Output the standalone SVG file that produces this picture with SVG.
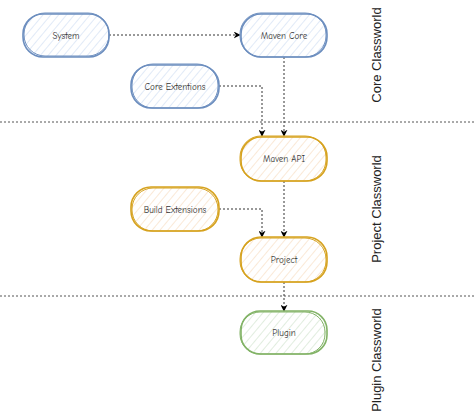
<svg xmlns="http://www.w3.org/2000/svg" width="474" height="415" viewBox="0 0 474 415">
<defs>
<pattern id="hb" width="6" height="6" patternUnits="userSpaceOnUse" patternTransform="rotate(40)"><line x1="0" y1="0" x2="0" y2="6" stroke="#c4d6ef" stroke-width="1"/></pattern>
<pattern id="ho" width="6" height="6" patternUnits="userSpaceOnUse" patternTransform="rotate(40)"><line x1="0" y1="0" x2="0" y2="6" stroke="#f6d3b0" stroke-width="1"/></pattern>
<pattern id="hg" width="6" height="6" patternUnits="userSpaceOnUse" patternTransform="rotate(40)"><line x1="0" y1="0" x2="0" y2="6" stroke="#c3dcc0" stroke-width="1"/></pattern>
<marker id="arr" viewBox="0 0 10 10" refX="9" refY="5" markerWidth="7" markerHeight="7" orient="auto" markerUnits="userSpaceOnUse"><path d="M0,0 L10,5 L0,10 L3,5 z" fill="#000"/></marker>
</defs>
<style>
.lbl{font-family:"Comic Neue","Liberation Sans",sans-serif;font-size:9px;fill:#333;text-anchor:middle;dominant-baseline:central}
.side{font-family:"Liberation Sans",Arial,sans-serif;font-size:13px;fill:#222;text-anchor:middle;dominant-baseline:central}
.sep{stroke:#555;stroke-width:1;stroke-dasharray:2,2;fill:none}
.con{stroke:#333;stroke-width:1;stroke-dasharray:2,2;fill:none;marker-end:url(#arr)}
.b{fill:url(#hb);stroke:#6c8ebf;stroke-width:1.6}
.o{fill:url(#ho);stroke:#d6a21e;stroke-width:1.6}
.g{fill:url(#hg);stroke:#82b366;stroke-width:1.6}
.b2{fill:none;stroke:#6c8ebf;stroke-width:1}
.o2{fill:none;stroke:#d6a21e;stroke-width:1}
.g2{fill:none;stroke:#82b366;stroke-width:1}
</style>
<rect width="474" height="415" fill="#fff"/>
<g id="separators">
<line class="sep" x1="0" y1="122" x2="474" y2="122"/>
<line class="sep" x1="0" y1="296" x2="474" y2="296"/>
</g>
<g id="lanes">
<text class="side" transform="translate(376,55) rotate(-90)">Core Classworld</text>
<text class="side" transform="translate(376,209) rotate(-90)">Project Classworld</text>
<text class="side" transform="translate(376,360) rotate(-90)">Plugin Classworld</text>
</g>
<g id="connectors">
<path class="con" d="M109,35 L240,35"/>
<path class="con" d="M219,86 L262,86 L262,136"/>
<path class="con" d="M284,57 L284,136"/>
<path class="con" d="M284,181 L284,237"/>
<path class="con" d="M219,209 L262,209 L262,237"/>
<path class="con" d="M284,282 L284,311"/>
</g>
<g id="system">
<rect class="b" x="23" y="14" width="86" height="43" rx="20"/>
<rect class="b2" x="24" y="13" width="85" height="43" rx="21"/>
<text class="lbl" x="66" y="35.5">System</text>
</g>
<g id="maven-core">
<rect class="b" x="241" y="14" width="86" height="43" rx="20"/>
<rect class="b2" x="240" y="13" width="86" height="44" rx="21"/>
<text class="lbl" x="284" y="35.5">Maven Core</text>
</g>
<g id="core-extentions">
<rect class="b" x="131" y="65" width="88" height="43" rx="20"/>
<rect class="b2" x="132" y="64" width="86" height="44" rx="21"/>
<text class="lbl" x="175" y="86.5">Core Extentions</text>
</g>
<g id="maven-api">
<rect class="o" x="241" y="137" width="86" height="44" rx="20"/>
<rect class="o2" x="240" y="136" width="86" height="45" rx="21"/>
<text class="lbl" x="284" y="159">Maven API</text>
</g>
<g id="build-extensions">
<rect class="o" x="131" y="187" width="88" height="44" rx="20"/>
<rect class="o2" x="132" y="188" width="86" height="43" rx="21"/>
<text class="lbl" x="175" y="209.5">Build Extensions</text>
</g>
<g id="project">
<rect class="o" x="241" y="237" width="86" height="45" rx="20"/>
<rect class="o2" x="240" y="238" width="86" height="44" rx="21"/>
<text class="lbl" x="284" y="260">Project</text>
</g>
<g id="plugin">
<rect class="g" x="241" y="311" width="86" height="43" rx="19"/>
<rect class="g2" x="240" y="312" width="85" height="42" rx="20"/>
<text class="lbl" x="284" y="332.5">Plugin</text>
</g>
</svg>
